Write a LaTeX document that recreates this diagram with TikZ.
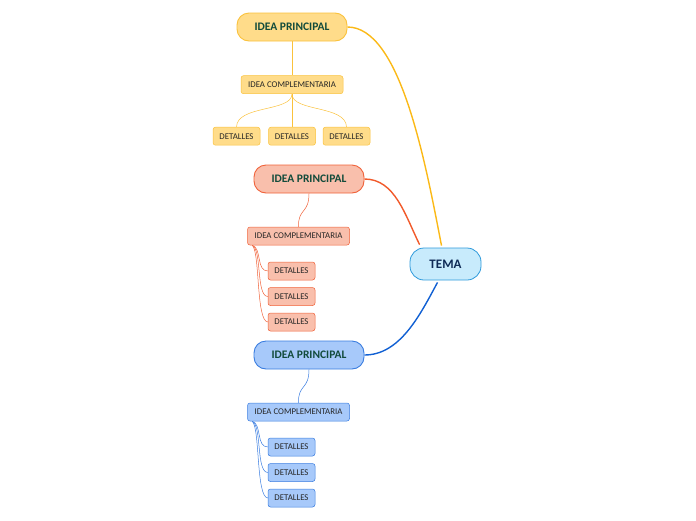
\documentclass[tikz,border=0pt]{standalone}
\usepackage{fontspec}
\setmainfont{Carlito}
\usetikzlibrary{positioning, calc, backgrounds}

\definecolor{yelFill}{HTML}{FFDC8A}
\definecolor{yelDraw}{HTML}{FAC23C}
\definecolor{yelLine}{HTML}{FBB917}
\definecolor{redFill}{HTML}{F9BFAC}
\definecolor{redDraw}{HTML}{F0623A}
\definecolor{redLine}{HTML}{F15A2B}
\definecolor{bluFill}{HTML}{A7C9FA}
\definecolor{bluDraw}{HTML}{3A7DE0}
\definecolor{bluLine}{HTML}{1160D3}
\definecolor{temFill}{HTML}{C8EBFC}
\definecolor{temDraw}{HTML}{2E9ADB}
\definecolor{ideaText}{HTML}{124B3B}
\definecolor{temText}{HTML}{0E2A56}

\begin{document}
\begin{tikzpicture}[
    x=1pt, y=-1pt,
    tema/.style={rectangle, rounded corners=14pt, draw=temDraw, fill=temFill, line width=0.8pt,
        minimum width=71pt, minimum height=32pt, inner sep=0pt, text=temText, font=\bfseries\fontsize{13}{13}\selectfont},
    idea/.style={rectangle, rounded corners=12pt, line width=0.9pt,
        minimum width=110pt, minimum height=28pt, inner sep=0pt, text=ideaText, font=\bfseries\fontsize{11.5}{12}\selectfont},
    compl/.style={rectangle, rounded corners=2.5pt, line width=0.5pt,
        minimum width=102pt, minimum height=18pt, inner sep=0pt, text=black!85, font=\fontsize{8.8}{9}\selectfont},
    detail/.style={compl, minimum width=47pt},
    yel/.style={draw=yelDraw, fill=yelFill},
    red/.style={draw=redDraw, fill=redFill},
    blu/.style={draw=bluDraw, fill=bluFill},
    link/.style={line width=1.4pt},
    sublink/.style={line width=0.5pt}
]
    \useasboundingbox (0,0) rectangle (696,520);

    % Tema
    \node[tema] (tema) at (445.5,264) {TEMA};

    % Idea 1 (yellow)
    \node[idea, yel] (idea1) at (292,27) {IDEA PRINCIPAL};
    \node[compl, yel, below=34pt of idea1] (comp1) {IDEA COMPLEMENTARIA};
    \node[detail, yel, below=33pt of comp1] (det1b) {DETALLES};
    \node[detail, yel, left=8pt of det1b] (det1a) {DETALLES};
    \node[detail, yel, right=7pt of det1b] (det1c) {DETALLES};

    % Idea 2 (red)
    \node[idea, red] (idea2) at (309,179) {IDEA PRINCIPAL};
    \node[compl, red] (comp2) at (298.5,236) {IDEA COMPLEMENTARIA};
    \node[detail, red] (det2a) at (291.5,271) {DETALLES};
    \node[detail, red, below=7pt of det2a] (det2b) {DETALLES};
    \node[detail, red, below=7pt of det2b] (det2c) {DETALLES};

    % Idea 3 (blue)
    \node[idea, blu] (idea3) at (309,355) {IDEA PRINCIPAL};
    \node[compl, blu] (comp3) at (298.5,412) {IDEA COMPLEMENTARIA};
    \node[detail, blu] (det3a) at (291.5,447) {DETALLES};
    \node[detail, blu, below=7pt of det3a] (det3b) {DETALLES};
    \node[detail, blu, below=7pt of det3b] (det3c) {DETALLES};

    \begin{scope}[on background layer]
        % Main links
        \draw[link, yelLine] (idea1.east) .. controls (400,27) and (425,160) .. ($(tema.north)+(-4,-2)$);
        \draw[link, redLine] (idea2.east) .. controls (395,179) and (405,215) .. ($(tema.north west)+(10,-3)$);
        \draw[link, bluLine] (idea3.east) .. controls (400,355) and (420,315) .. ($(tema.south)+(-8,2)$);

        % Yellow branch
        \draw[sublink, yelDraw] (idea1.south) -- (comp1.north);
        \draw[sublink, yelDraw] (comp1.south) -- (det1b.north);
        \draw[sublink, yelDraw] (comp1.south) .. controls (292,112) and (237,105) .. (det1a.north);
        \draw[sublink, yelDraw] (comp1.south) .. controls (292,112) and (346,105) .. (det1c.north);

        % Red branch
        \draw[sublink, redDraw] (idea2.south) .. controls (309,214) and (298,208) .. (comp2.north);
        \coordinate (r0) at ($(comp2.south west)+(5,0)$);
        \draw[sublink, redDraw] (r0) .. controls (262,248) and (256,271) .. (det2a.west);
        \draw[sublink, redDraw] (r0) .. controls (262,250) and (256,296) .. (det2b.west);
        \draw[sublink, redDraw] (r0) .. controls (260,252) and (256,321) .. (det2c.west);

        % Blue branch
        \draw[sublink, bluDraw] (idea3.south) .. controls (309,390) and (298,384) .. (comp3.north);
        \coordinate (b0) at ($(comp3.south west)+(5,0)$);
        \draw[sublink, bluDraw] (b0) .. controls (262,424) and (256,447) .. (det3a.west);
        \draw[sublink, bluDraw] (b0) .. controls (262,426) and (256,472) .. (det3b.west);
        \draw[sublink, bluDraw] (b0) .. controls (260,428) and (256,497) .. (det3c.west);
    \end{scope}
\end{tikzpicture}
\end{document}
